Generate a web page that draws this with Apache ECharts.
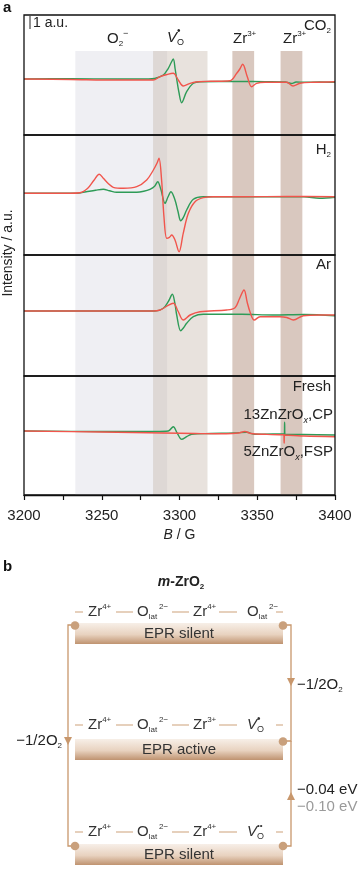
<!DOCTYPE html>
<html><head><meta charset="utf-8">
<script src="https://cdn.jsdelivr.net/npm/echarts@6/dist/echarts.min.js"></script>
<style>html,body{margin:0;padding:0;background:#fff}#c{width:360px;height:869px}</style>
</head><body><div id="c"></div>
<script>
// ---------------- data ----------------
const fieldTicks = [3200, 3250, 3300, 3350, 3400];
const panelNames = ['CO2', 'H2', 'Ar', 'Fresh'];
// shaded assignment bands (magnetic field, G)
const o2Band = [3233, 3292];
const voBand = [3283, 3318];
const zrBand1 = [3334, 3348];
const zrBand2 = [3365, 3379];

// CO2 panel
const co2GreenB = [3200, 3230, 3260, 3280, 3284, 3289.6, 3292.8, 3294.5, 3296, 3297.2, 3298.2, 3299.6, 3301.4, 3304.6, 3308.9, 3313.2, 3325, 3340, 3355, 3368, 3372, 3375, 3380, 3390, 3400];
const co2GreenI = [0, 0.3, 0, 0, 0.5, 4, 10.7, 16, 20, 10, 0, -13, -23.7, -12.7, -4.3, -2.7, -2.5, -2.5, -2.7, -3, -4.5, -3, -3.3, -3, -3.3];
const co2RedB = [3200, 3230, 3260, 3283, 3287.5, 3292, 3296, 3299.2, 3302.4, 3306.8, 3312, 3320, 3332.5, 3336.8, 3338.8, 3340.6, 3343.6, 3346.4, 3349.6, 3355, 3369, 3373, 3377.5, 3386, 3400];
const co2RedI = [0, -0.5, -1, -1, 2.3, 4.5, 5.7, -1, -7, -4.3, -2.7, -2.3, -1.7, 5.7, 10, 14.7, 2.3, -7.7, -4.3, -3.3, -3.3, -7, -4.3, -3.3, -2.7];

// H2 panel
const h2GreenB = [3200, 3234, 3240, 3246, 3251, 3255, 3259.6, 3266, 3272.5, 3277, 3281, 3284, 3286, 3288, 3290.7, 3292.5, 3294.5, 3297.1, 3299, 3300.8, 3302.5, 3304.6, 3308.9, 3315.3, 3340, 3380, 3390, 3400];
const h2GreenI = [0, 0, 1.5, 3, 4, 2.5, 1, 1, 1, 2, 4, 7, 11.6, 4, -10, -4, 1.6, -6.7, -18, -27.4, -24, -16.7, -6, -3.4, -3.4, -3.5, -5, -4];
const h2RedB = [3200, 3230, 3236, 3241, 3245, 3248.4, 3251, 3254, 3257.4, 3263.9, 3272.5, 3278.9, 3283.2, 3285.5, 3286.8, 3288.5, 3290, 3291.8, 3293.5, 3295, 3297.1, 3299.7, 3302.4, 3305.7, 3310, 3315.3, 3321.7, 3340, 3370, 3400];
const h2RedI = [0, 0, 0.5, 5, 13, 19, 15, 10, 6, 5, 6.6, 13.3, 23.3, 30, 35, 13, -23.4, -45, -44, -41.7, -46.7, -58.4, -40, -20, -8.4, -4.4, -3.4, -3.4, -3.2, -3.4];

// Ar panel
const arGreenB = [3200, 3250, 3284.2, 3289.6, 3293, 3295.4, 3297, 3298.2, 3300.8, 3302.5, 3304.6, 3308.9, 3315.3, 3340, 3360, 3380, 3400];
const arGreenI = [0, 0, 0, 2.7, 10, 16.7, 8, -4, -19.7, -17, -12.3, -5.7, -3.3, -3.3, -4, -3.5, -4.7];
const arRedB = [3200, 3260, 3283, 3287.5, 3292, 3296, 3299, 3302.4, 3306.8, 3313.2, 3330.3, 3335.7, 3338.5, 3341.5, 3343.5, 3345.3, 3348.1, 3351.8, 3364.6, 3369, 3373.2, 3379.6, 3390, 3400];
const arRedI = [0, 0, 0, 1, 5, 7.7, 0, -9, -4, -0.7, 1, 3.3, 12, 21, 9, -0.7, -9, -5.7, -5.7, -6.5, -9, -4.7, -4, -4];

// Fresh panel
const frGreenB = [3200, 3250, 3285, 3292.8, 3296, 3298.5, 3301.4, 3304.6, 3307.8, 3320, 3335, 3343.2, 3348.6, 3360, 3367.4, 3367.6, 3367.8, 3380, 3400];
const frGreenI = [0, -0.5, -0.5, 0, 4.3, -2, -8.3, -5.7, -3.3, -2.5, -2, -1.3, -3.3, -3, -3, 8.7, -3.5, -3.5, -4];
const frRedB = [3200, 3250, 3290, 3310, 3330, 3338, 3342, 3346, 3355, 3366, 3367.1, 3367.3, 3367.5, 3380, 3400];
const frRedI = [0, -1, -2, -2.5, -2.8, -2, -0.5, -2.5, -3.3, -3.8, -3.8, -12.3, -4, -5, -5.7];

// ---------------- layout ----------------
const FAM = "'Liberation Sans', Arial, Helvetica, sans-serif";
const GREEN = '#2e9b57', RED = '#f1554c';
const gridTops = [15, 135, 255, 376];
const gridHeights = [120, 120, 121, 119];
const yRanges = [[-56, 64], [-61.7, 58.3], [-65, 56], [-64, 55]];
const GL = 24, GW = 311;

function pts(b, v) { return b.map((x, k) => [x, v[k]]); }
const panels = [
  [pts(co2GreenB, co2GreenI), pts(co2RedB, co2RedI)],
  [pts(h2GreenB, h2GreenI), pts(h2RedB, h2RedI)],
  [pts(arGreenB, arGreenI), pts(arRedB, arRedI)],
  [pts(frGreenB, frGreenI), pts(frRedB, frRedI)]
];

const bandDefs = [
  [o2Band, '#efeff3'],
  [voBand, 'rgba(190,175,160,0.36)'],
  [zrBand1, '#d9c8bf'],
  [zrBand2, '#d9c8bf']
];
function bands(k) {
  return bandDefs.map(([r, c]) => {
    if (k === 0) return [{ xAxis: r[0], yAxis: 28, itemStyle: { color: c, opacity: 1 } }, { xAxis: r[1], yAxis: yRanges[0][0] }];
    return [{ xAxis: r[0], itemStyle: { color: c, opacity: 1 } }, { xAxis: r[1] }];
  });
}

const grids = [], xAxes = [], yAxes = [], series = [];
for (let k = 0; k < 4; k++) {
  grids.push({ left: GL, width: GW, top: gridTops[k], height: gridHeights[k], show: false });
  const last = k === 3;
  xAxes.push({
    gridIndex: k, type: 'value', min: fieldTicks[0], max: fieldTicks[fieldTicks.length - 1], interval: 50,
    show: last, position: 'bottom',
    axisLine: { show: last, onZero: false, lineStyle: { color: '#111', width: 1.3 } },
    axisTick: { show: last, inside: false, length: 5, lineStyle: { color: '#111', width: 1.2 } },
    minorTick: { show: last, splitNumber: 2, length: 5, lineStyle: { color: '#111', width: 1.2 } },
    axisLabel: { show: last, margin: 13, fontSize: 15, fontFamily: FAM, color: '#222', formatter: v => String(v) },
    splitLine: { show: false }, minorSplitLine: { show: false },
    name: last ? '{i|B} / G' : '', nameLocation: 'middle', nameGap: 33,
    nameTextStyle: { fontSize: 14, fontFamily: FAM, color: '#222', rich: { i: { fontStyle: 'italic', fontSize: 14, fontFamily: FAM, color: '#222' } } }
  });
  yAxes.push({ gridIndex: k, type: 'value', min: yRanges[k][0], max: yRanges[k][1], show: false });
  series.push({
    name: panelNames[k] + ' 13ZnZrOx,CP', type: 'line', xAxisIndex: k, yAxisIndex: k, data: panels[k][0],
    showSymbol: false, smooth: 0.35, lineStyle: { color: GREEN, width: 1.4 }, itemStyle: { color: GREEN }, z: 3,
    markArea: { silent: true, data: bands(k) }
  });
  series.push({
    name: panelNames[k] + ' 5ZnZrOx,FSP', type: 'line', xAxisIndex: k, yAxisIndex: k, data: panels[k][1],
    showSymbol: false, smooth: 0.35, lineStyle: { color: RED, width: 1.4 }, itemStyle: { color: RED }, z: 4
  });
}

// ---------------- graphic helpers ----------------
const mctx = document.createElement('canvas').getContext('2d');
function fstr(sz, bold, it) { return (it ? 'italic ' : 'normal ') + (bold ? 'bold ' : 'normal ') + sz + 'px ' + FAM; }
function mw(t, f) { mctx.font = f; return mctx.measureText(t).width; }
function txt(x, y, t, o) {
  o = o || {};
  const f = fstr(o.sz || 14, o.bold, o.it);
  return { type: 'text', x: x, y: y, rotation: o.rot || 0, z: 120,
    style: { text: t, font: f, fill: o.color || '#222', align: o.align || 'left', verticalAlign: 'middle',
             textAlign: o.align || 'left', textVerticalAlign: 'middle' } };
}
// compound chemical label: parts [{t, sz, dy, it, bold, same, gap}]
function chem(x, y, parts, o) {
  o = o || {};
  let cur = 0, lastX = 0;
  const placed = parts.map(p => {
    const f = fstr(p.sz || 14, p.bold || o.bold, p.it);
    const w = mw(p.t, f);
    const px = p.same ? lastX : cur + (p.gap || 0);
    lastX = px;
    cur = Math.max(cur, px + w);
    return { p, px };
  });
  let x0 = x;
  if (o.anchor === 'center') x0 = x - cur / 2;
  if (o.anchor === 'right') x0 = x - cur;
  return placed.map(({ p, px }) => txt(x0 + px, y + (p.dy || 0), p.t,
    { sz: p.sz || 14, it: p.it, bold: p.bold || o.bold, color: o.color }));
}
const G = [];
function add(a) { if (Array.isArray(a)) a.forEach(e => G.push(e)); else G.push(a); }

// panel frames
for (let k = 0; k < 4; k++) {
  add({ type: 'rect', z: 110, shape: { x: GL, y: gridTops[k], width: GW, height: gridHeights[k] },
        style: { fill: 'none', stroke: '#111', lineWidth: 1.3 } });
}
// panel a labels
add(txt(3, 8, 'a', { sz: 15, bold: true, color: '#111' }));
add({ type: 'line', z: 120, shape: { x1: 30, y1: 16, x2: 30, y2: 29 }, style: { stroke: '#222', lineWidth: 1 } });
add(txt(33, 23, '1 a.u.', { sz: 14 }));
add(chem(107, 39, [{ t: 'O', sz: 15 }, { t: '2', sz: 8, dy: 5 }, { t: '−', sz: 9, dy: -5 }]));
add(chem(167, 38, [{ t: 'V', sz: 15, it: true }, { t: 'O', sz: 9, dy: 5 }, { t: '•', sz: 10, dy: -7, same: true, gap: 0 }]));
add(chem(233, 39, [{ t: 'Zr', sz: 15 }, { t: '3+', sz: 8, dy: -5 }]));
add(chem(283, 39, [{ t: 'Zr', sz: 15 }, { t: '3+', sz: 8, dy: -5 }]));
add(chem(304, 26, [{ t: 'CO', sz: 15 }, { t: '2', sz: 8, dy: 5 }]));
add(chem(331, 150, [{ t: 'H', sz: 15 }, { t: '2', sz: 8, dy: 5 }], { anchor: 'right' }));
add(txt(331, 265, 'Ar', { sz: 15, align: 'right' }));
add(txt(331, 387, 'Fresh', { sz: 15, align: 'right' }));
add(chem(333, 415, [{ t: '13ZnZrO', sz: 15 }, { t: 'x', sz: 9, dy: 5, it: true }, { t: ',CP', sz: 15 }], { anchor: 'right' }));
add(chem(333, 452, [{ t: '5ZnZrO', sz: 15 }, { t: 'x', sz: 9, dy: 5, it: true }, { t: ',FSP', sz: 15 }], { anchor: 'right' }));
add(txt(8, 253, 'Intensity / a.u.', { sz: 14, align: 'center', rot: Math.PI / 2 }));

// ---------------- panel b diagram ----------------
const LC = '#c8976c', DASH = '#d2aa86', DOT = '#c9a07c';
add(txt(3, 567, 'b', { sz: 15, bold: true, color: '#111' }));
add(chem(181, 582, [{ t: 'm', sz: 14, it: true, bold: true }, { t: '-ZrO', sz: 14, bold: true }, { t: '2', sz: 8, dy: 5, bold: true }], { anchor: 'center' }));

const barGrad = () => new echarts.graphic.LinearGradient(0, 0, 0, 1, [
  { offset: 0, color: '#f7efe8' }, { offset: 0.55, color: '#e8d2bf' }, { offset: 1, color: '#bf9370' }]);
function bar(y, label) {
  add({ type: 'rect', z: 105, shape: { x: 75, y: y, width: 208, height: 21 }, style: { fill: barGrad() } });
  add(txt(179, y + 10.5, label, { sz: 15, align: 'center', color: '#333' }));
}
function dash(y, a, b) { add({ type: 'line', z: 105, shape: { x1: a, y1: y, x2: b, y2: y }, style: { stroke: DASH, lineWidth: 1.1 } }); }
const zr4 = [{ t: 'Zr', sz: 15 }, { t: '4+', sz: 8, dy: -5 }];
const zr3 = [{ t: 'Zr', sz: 15 }, { t: '3+', sz: 8, dy: -5 }];
const olat = [{ t: 'O', sz: 15 }, { t: 'lat', sz: 8, dy: 5 }, { t: '2−', sz: 8, dy: -5, gap: 2 }];
const vo1 = [{ t: 'V', sz: 15, it: true }, { t: 'O', sz: 9, dy: 5 }, { t: '•', sz: 10, dy: -6, same: true }];
const vo2 = [{ t: 'V', sz: 15, it: true }, { t: 'O', sz: 9, dy: 5 }, { t: '••', sz: 8, dy: -6, same: true }];
function row(y, parts) {
  [[75, 83], [116, 133], [172, 189], [219, 237], [276, 283]].forEach(d => dash(y, d[0], d[1]));
  const xs = [88, 137, 193, 247];
  parts.forEach((p, i) => add(chem(xs[i], y, p, { color: '#333' })));
}
row(612, [zr4, olat, zr4, olat]);
row(725, [zr4, olat, zr3, vo1]);
row(832, [zr4, olat, zr4, vo2]);
bar(623, 'EPR silent');
bar(739, 'EPR active');
bar(844, 'EPR silent');

// connecting lines and arrows
add({ type: 'polyline', z: 104, shape: { points: [[75, 625], [68, 625], [68, 846], [75, 846]] }, style: { stroke: LC, lineWidth: 1.3, fill: 'none' } });
add({ type: 'polyline', z: 104, shape: { points: [[283, 625], [291, 625], [291, 741], [283, 741]] }, style: { stroke: LC, lineWidth: 1.3, fill: 'none' } });
add({ type: 'polyline', z: 104, shape: { points: [[283, 846], [291, 846], [291, 741]] }, style: { stroke: LC, lineWidth: 1.3, fill: 'none' } });
add({ type: 'polygon', z: 106, shape: { points: [[64, 737], [72, 737], [68, 745]] }, style: { fill: LC } });
add({ type: 'polygon', z: 106, shape: { points: [[287, 678], [295, 678], [291, 686]] }, style: { fill: LC } });
add({ type: 'polygon', z: 106, shape: { points: [[287, 800], [295, 800], [291, 792]] }, style: { fill: LC } });
[[75, 625.5], [283, 625.5], [283, 741.5], [75, 846], [283, 846]].forEach(c =>
  add({ type: 'circle', z: 107, shape: { cx: c[0], cy: c[1], r: 4.3 }, style: { fill: DOT } }));
add(chem(62, 741, [{ t: '−1/2O', sz: 15 }, { t: '2', sz: 8, dy: 5 }], { anchor: 'right' }));
add(chem(297, 685, [{ t: '−1/2O', sz: 15 }, { t: '2', sz: 8, dy: 5 }]));
add(txt(297, 790, '−0.04 eV', { sz: 15, color: '#222' }));
add(txt(297, 807, '−0.10 eV', { sz: 15, color: '#9a9a9a' }));

const chart = echarts.init(document.getElementById('c'), null, { renderer: 'canvas' });
chart.setOption({
  backgroundColor: '#fff',
  animation: false,
  textStyle: { fontFamily: FAM },
  grid: grids, xAxis: xAxes, yAxis: yAxes, series: series,
  graphic: { elements: G }
});
</script></body></html>
